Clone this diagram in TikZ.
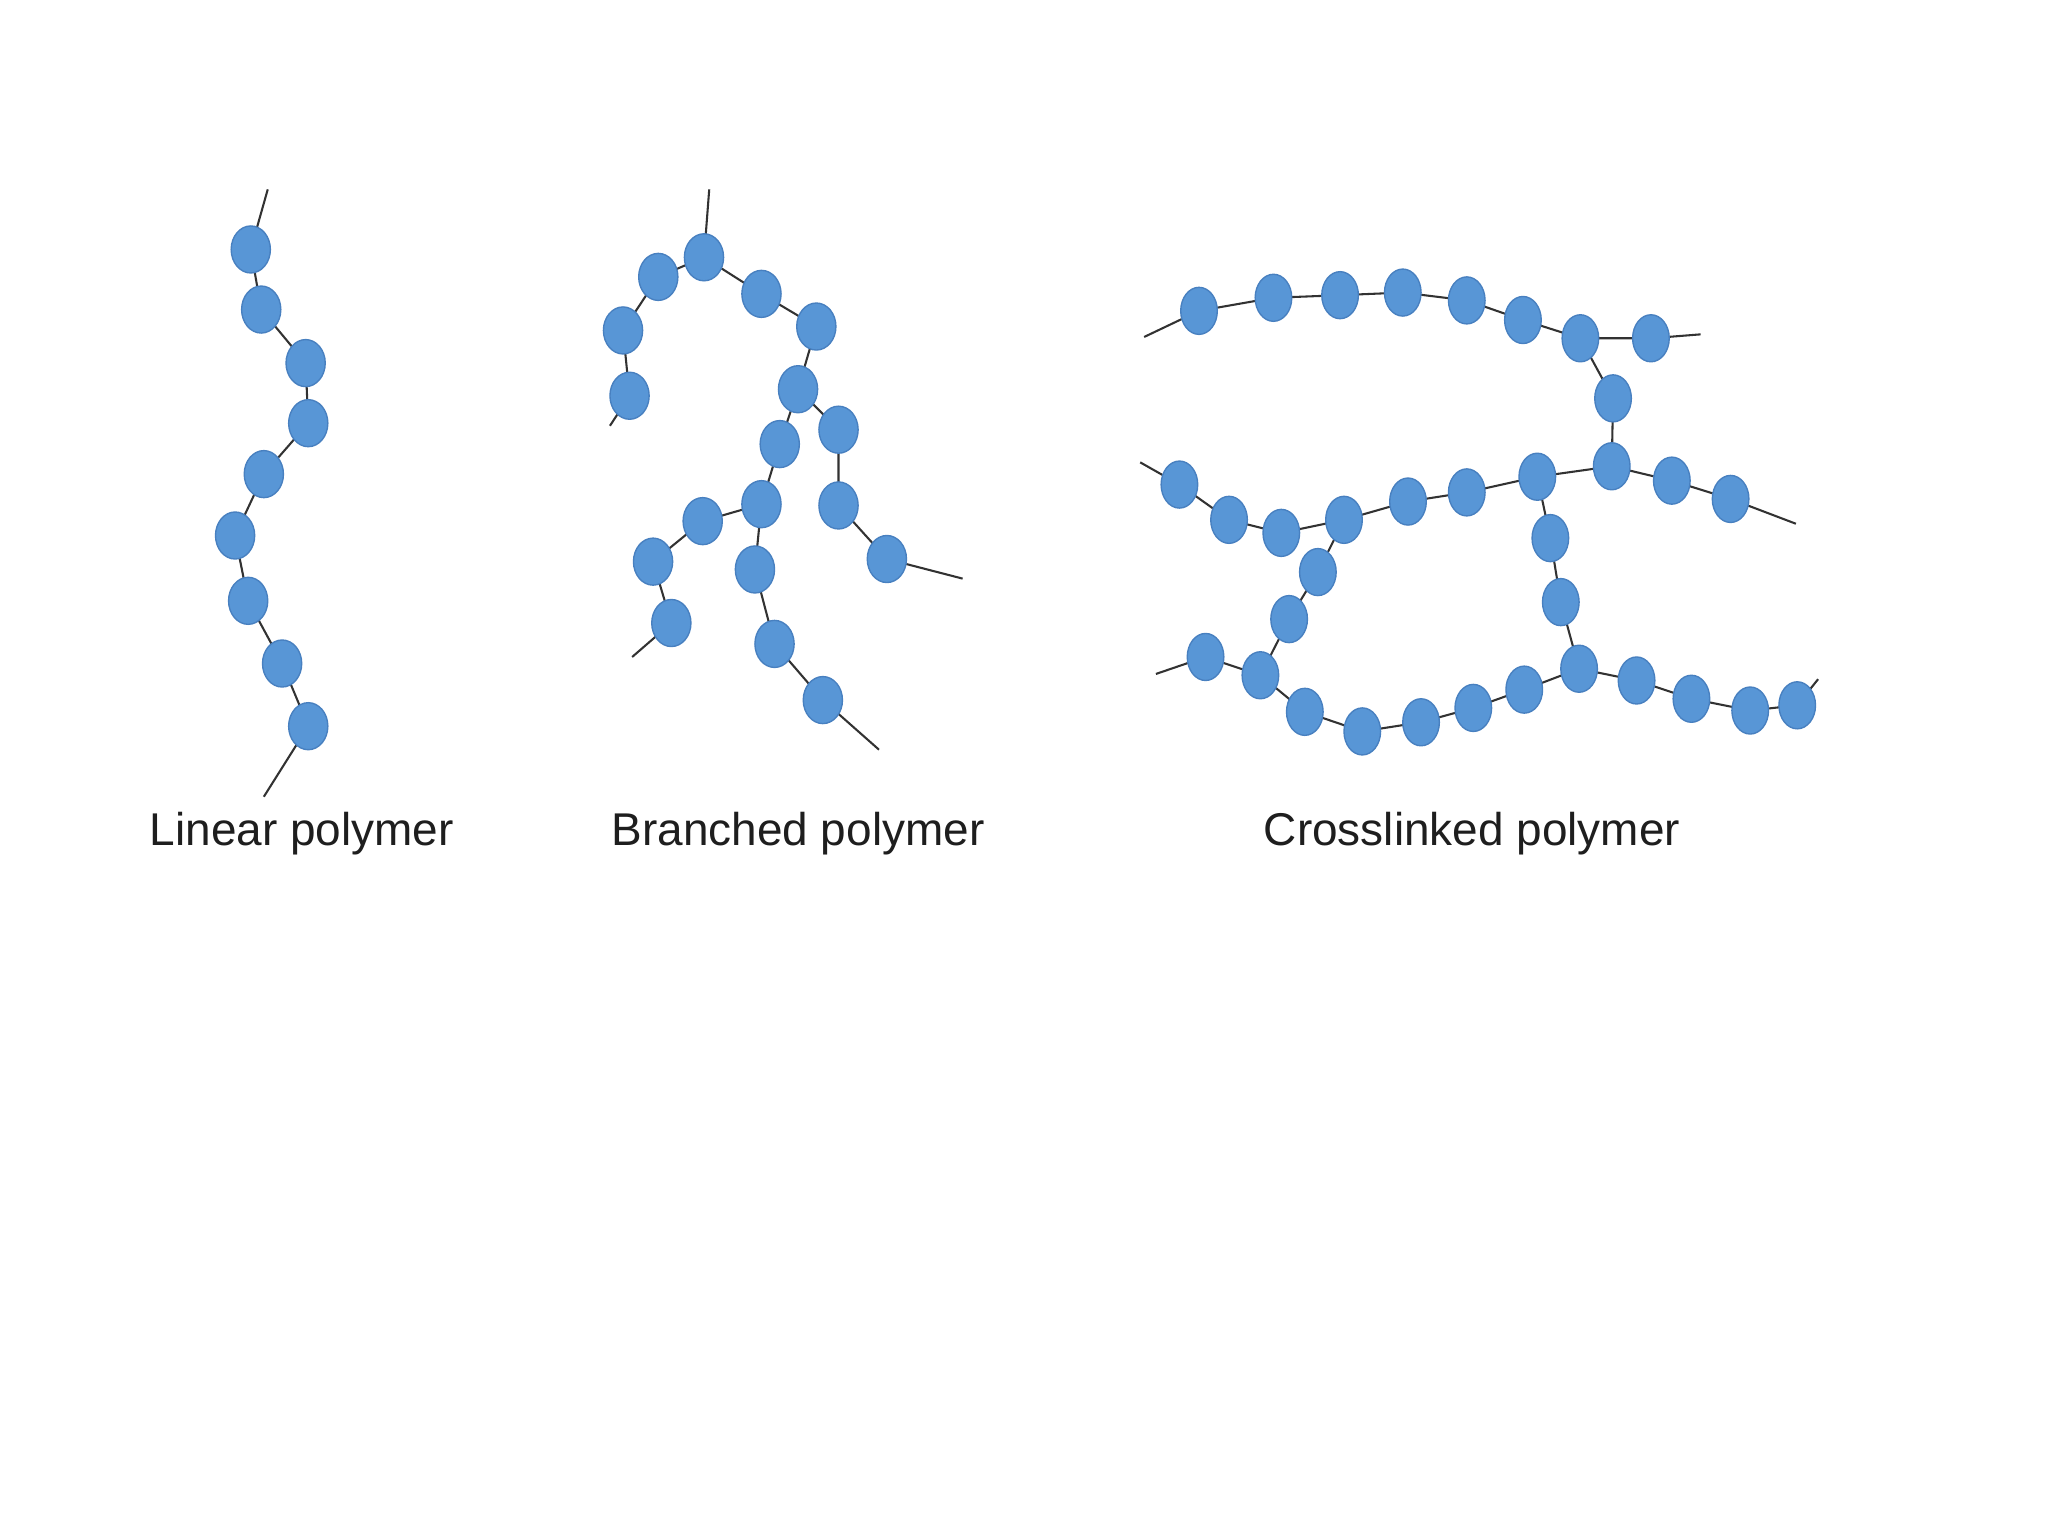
\documentclass[tikz,border=0pt]{standalone}
\usepackage{fontspec}
\setmainfont{Liberation Sans}
\definecolor{beadblue}{RGB}{88,150,214}
\definecolor{beadedge}{RGB}{72,128,192}
\definecolor{chaingray}{RGB}{50,50,50}
\definecolor{labelgray}{RGB}{30,30,30}
\tikzset{
    chain/.style={draw=chaingray, line width=0.45pt},
    bead/.style={fill=beadblue, draw=beadedge, line width=0.3pt},
    polylabel/.style={anchor=base, text=labelgray, font=\fontsize{10}{12}\selectfont}
}
\begin{document}
\begin{tikzpicture}[x=0.01cm, y=-0.01cm]
    \useasboundingbox[fill=white] (0,0) rectangle (1568,1176);
    % Linear polymer
    \begin{scope}
        \coordinate (l0) at (205,145); \coordinate (l1) at (192,191);
        \coordinate (l2) at (200,237); \coordinate (l3) at (234,278);
        \coordinate (l4) at (236,324); \coordinate (l5) at (202,363);
        \coordinate (l6) at (180,410); \coordinate (l7) at (190,460);
        \coordinate (l8) at (216,508); \coordinate (l9) at (236,556);
        \coordinate (l10) at (202,610);
        \draw[chain] (l0)--(l1)--(l2)--(l3)--(l4)--(l5)--(l6)--(l7)--(l8)--(l9)--(l10);
        \foreach \p in {l1,l2,l3,l4,l5,l6,l7,l8,l9} \filldraw[bead] (\p) ellipse (0.15cm and 0.18cm);
    \end{scope}
    \node[polylabel] (linlabel) at (231,647) {Linear polymer};

    % Branched polymer
    \begin{scope}
        \coordinate (b0) at (543,145); \coordinate (bA) at (539,197);
        \coordinate (bB) at (504,212); \coordinate (bC) at (477,253);
        \coordinate (bD) at (482,303); \coordinate (bDe) at (467,326);
        \coordinate (bE) at (583,225); \coordinate (bF) at (625,250);
        \coordinate (bG) at (611,298); \coordinate (bH) at (597,340);
        \coordinate (bI) at (583,386); \coordinate (bM) at (578,436);
        \coordinate (bN) at (593,493); \coordinate (bO) at (630,536);
        \coordinate (bOe) at (673,574);
        \coordinate (bP) at (642,329); \coordinate (bQ) at (642,387);
        \coordinate (bR) at (679,428); \coordinate (bRe) at (737,443);
        \coordinate (bJ) at (538,399); \coordinate (bK) at (500,430);
        \coordinate (bL) at (514,477); \coordinate (bLe) at (484,503);
        \draw[chain] (b0)--(bA)--(bB)--(bC)--(bD)--(bDe);
        \draw[chain] (bA)--(bE)--(bF)--(bG)--(bH)--(bI)--(bM)--(bN)--(bO)--(bOe);
        \draw[chain] (bG)--(bP)--(bQ)--(bR)--(bRe);
        \draw[chain] (bI)--(bJ)--(bK)--(bL)--(bLe);
        \foreach \p in {bA,bB,bC,bD,bE,bF,bG,bH,bI,bM,bN,bO,bP,bQ,bR,bJ,bK,bL}
            \filldraw[bead] (\p) ellipse (0.15cm and 0.18cm);
    \end{scope}
    \node[polylabel] (brlabel) at (611,647) {Branched polymer};

    % Crosslinked polymer
    \begin{scope}
        % top chain
        \coordinate (t0) at (876,258); \coordinate (t1) at (918,238);
        \coordinate (t2) at (975,228); \coordinate (t3) at (1026,226);
        \coordinate (t4) at (1074,224); \coordinate (t5) at (1123,230);
        \coordinate (t6) at (1166,245); \coordinate (t7) at (1210,259);
        \coordinate (t8) at (1264,259); \coordinate (t9) at (1302,256);
        % middle chain
        \coordinate (m0) at (873,354); \coordinate (m1) at (903,371);
        \coordinate (m2) at (941,398); \coordinate (m3) at (981,408);
        \coordinate (m4) at (1029,398); \coordinate (m5) at (1078,384);
        \coordinate (m6) at (1123,377); \coordinate (m7) at (1177,365);
        \coordinate (m8) at (1234,357); \coordinate (m9) at (1280,368);
        \coordinate (m10) at (1325,382); \coordinate (m11) at (1375,401);
        % bottom chain
        \coordinate (n0) at (885,516); \coordinate (n1) at (923,503);
        \coordinate (n2) at (965,517); \coordinate (n3) at (999,545);
        \coordinate (n4) at (1043,560); \coordinate (n5) at (1088,553);
        \coordinate (n6) at (1128,542); \coordinate (n7) at (1167,528);
        \coordinate (n8) at (1209,512); \coordinate (n9) at (1253,521);
        \coordinate (n10) at (1295,535); \coordinate (n11) at (1340,544);
        \coordinate (n12) at (1376,540); \coordinate (n13) at (1392,520);
        % crosslinks
        \coordinate (x1) at (1235,305);
        \coordinate (c1) at (1009,438); \coordinate (c2) at (987,474);
        \coordinate (d1) at (1187,412); \coordinate (d2) at (1195,461);
        \draw[chain] (t0)--(t1)--(t2)--(t3)--(t4)--(t5)--(t6)--(t7)--(t8)--(t9);
        \draw[chain] (m0)--(m1)--(m2)--(m3)--(m4)--(m5)--(m6)--(m7)--(m8)--(m9)--(m10)--(m11);
        \draw[chain] (n0)--(n1)--(n2)--(n3)--(n4)--(n5)--(n6)--(n7)--(n8)--(n9)--(n10)--(n11)--(n12)--(n13);
        \draw[chain] (t7)--(x1)--(m8);
        \draw[chain] (m4)--(c1)--(c2)--(n2);
        \draw[chain] (m7)--(d1)--(d2)--(n8);
        \foreach \p in {t1,t2,t3,t4,t5,t6,t7,t8,m1,m2,m3,m4,m5,m6,m7,m8,m9,m10,
                        n1,n2,n3,n4,n5,n6,n7,n8,n9,n10,n11,n12,x1,c1,c2,d1,d2}
            \filldraw[bead] (\p) ellipse (0.14cm and 0.18cm);
    \end{scope}
    \node[polylabel] (crlabel) at (1127,647) {Crosslinked polymer};
\end{tikzpicture}
\end{document}
